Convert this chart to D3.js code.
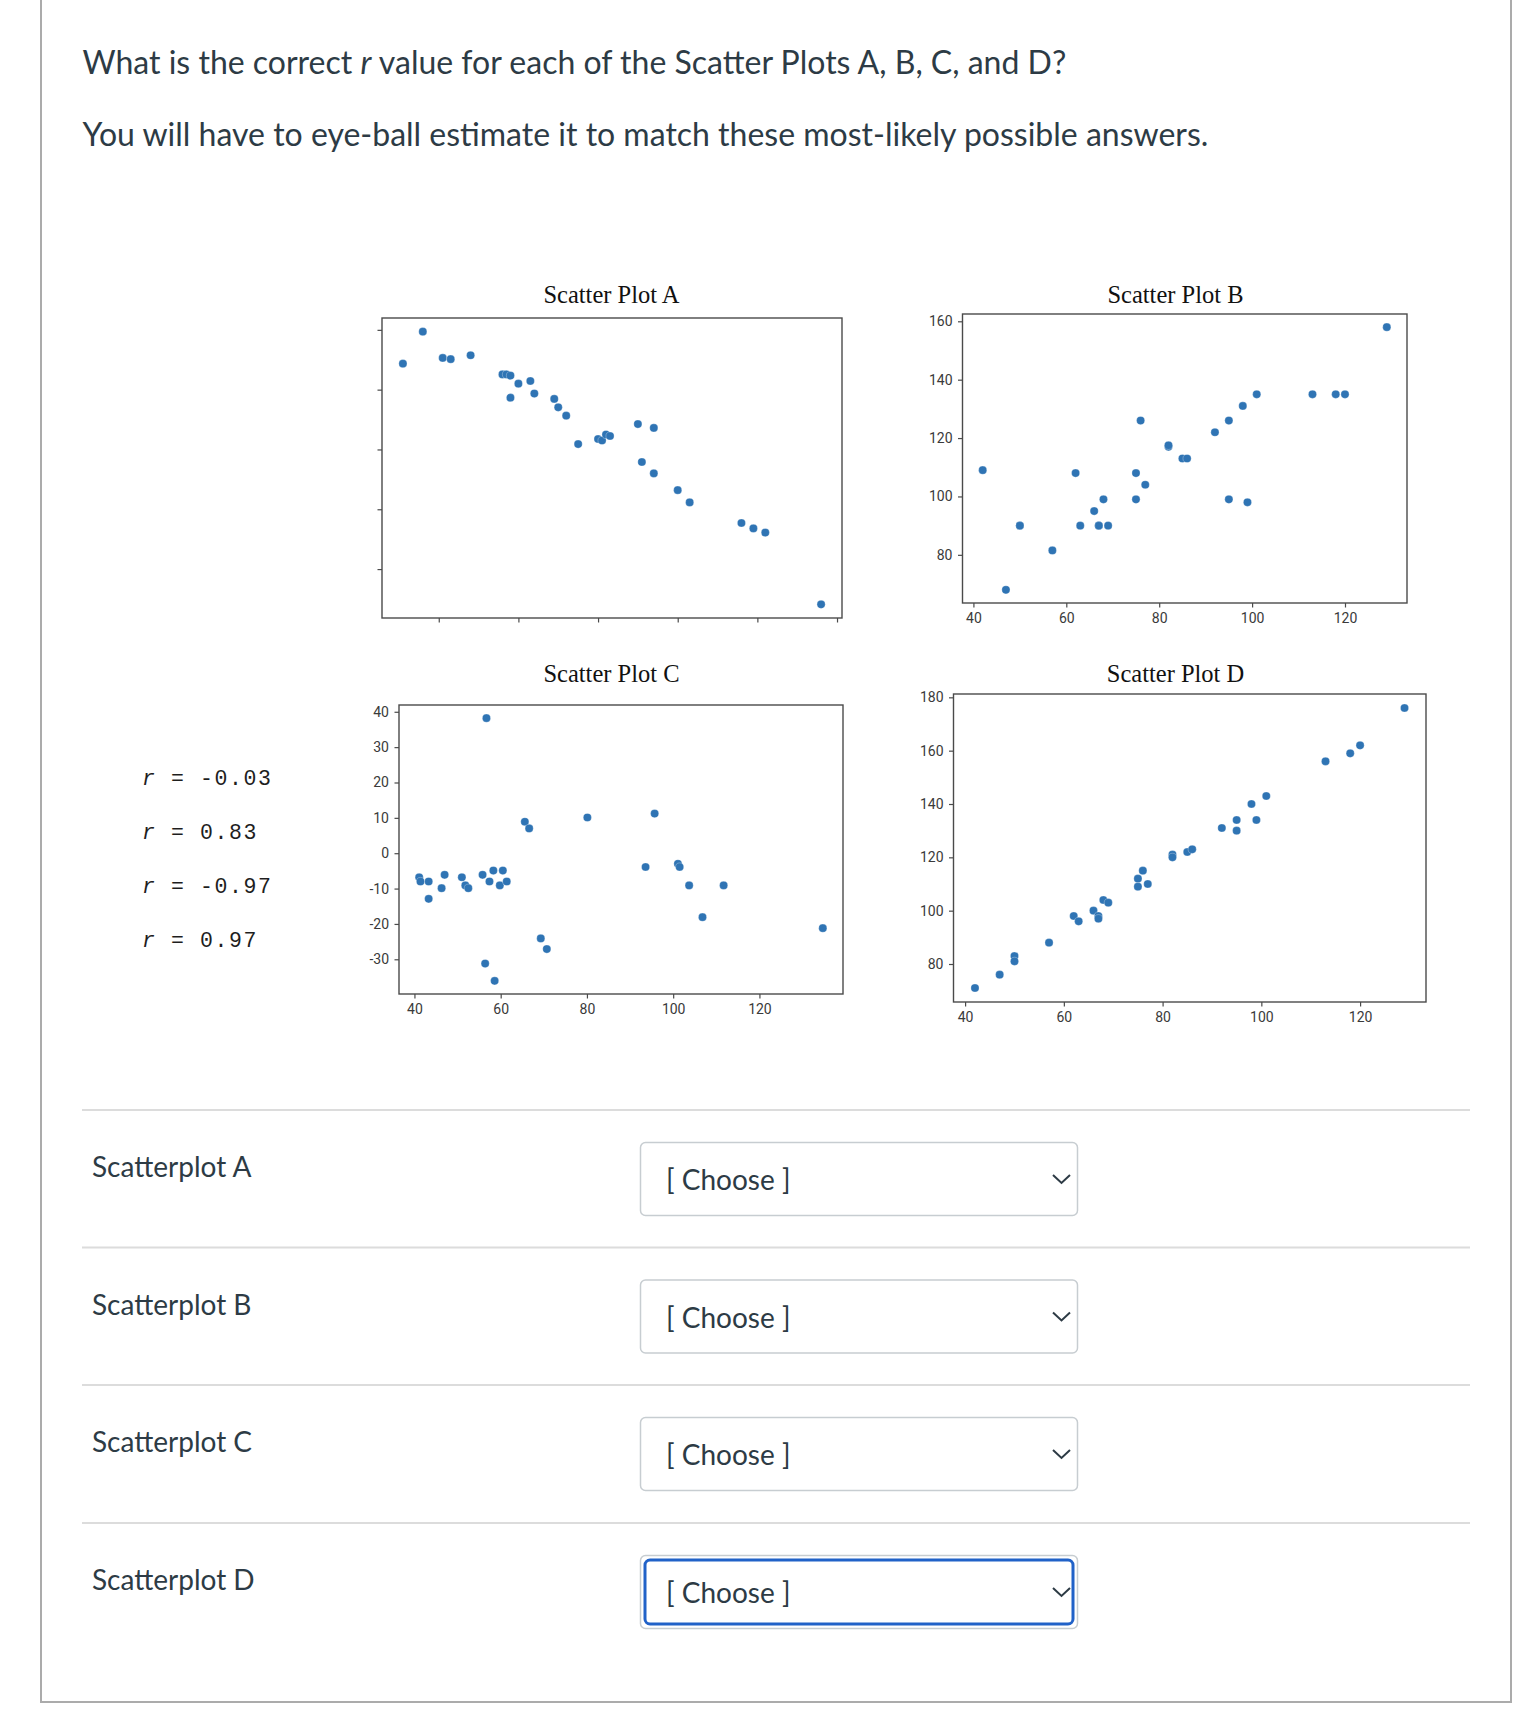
<!DOCTYPE html>
<html>
<head>
<meta charset="utf-8">
<script src="https://cdn.jsdelivr.net/npm/d3@7"></script>
<style>
  html, body { margin: 0; padding: 0; background: #fff; }
  svg { display: block; }
</style>
</head>
<body>
<svg id="page" width="1538" height="1728"></svg>
<script>
// ---------------- DATA ----------------
const plotTitles = ["Scatter Plot A", "Scatter Plot B", "Scatter Plot C", "Scatter Plot D"];

const aX = [71, 76, 81, 83, 88, 96, 97, 98, 100, 98, 103, 104, 109, 110, 112, 115, 120, 121, 122, 123, 130, 134, 131, 134, 140, 143, 156, 159, 162, 176];
const aY = [-11.3, -0.6, -9.4, -9.8, -8.5, -14.9, -14.9, -15.3, -18.0, -22.7, -17.1, -21.3, -23.1, -25.9, -28.7, -38.2, -36.5, -37.0, -35.0, -35.5, -31.5, -32.8, -44.2, -48.0, -53.6, -57.7, -64.6, -66.4, -67.8, -91.8];
const aXTicks = [80, 100, 120, 140, 160, 180];
const aYTicks = [0, -20, -40, -60, -80];

const bX = [42, 47, 50, 50, 57, 62, 63, 66, 67, 67, 68, 69, 75, 75, 76, 77, 82, 82, 85, 86, 92, 95, 95, 98, 99, 101, 113, 118, 120, 129];
const bY = [109, 68, 90, 90, 81.5, 108, 90, 95, 90, 90, 99, 90, 108, 99, 126, 104, 117, 117.5, 113, 113, 122, 126, 99, 131, 98, 135, 135, 135, 135, 158];
const bXTicks = [40, 60, 80, 100, 120];
const bYTicks = [80, 100, 120, 140, 160];

const cX = [56.7, 65.6, 66.6, 80.1, 95.7, 41.1, 41.4, 43.3, 43.3, 46.3, 47.0, 51.0, 51.8, 52.5, 55.8, 57.4, 58.3, 59.8, 60.5, 61.4, 93.6, 101.1, 101.5, 103.7, 111.7, 106.8, 134.7, 69.3, 70.7, 56.4, 58.6];
const cY = [38.2, 8.9, 7.0, 10.1, 11.2, -6.8, -8.0, -8.0, -12.9, -9.9, -6.1, -6.8, -9.1, -9.9, -6.1, -8.0, -4.9, -9.1, -4.9, -8.0, -3.9, -3.0, -3.9, -9.1, -9.1, -18.1, -21.2, -24.1, -27.1, -31.2, -36.1];
const cXTicks = [40, 60, 80, 100, 120];
const cYTicks = [-30, -20, -10, 0, 10, 20, 30, 40];

const dX = [42, 47, 50, 50, 57, 62, 63, 66, 67, 67, 68, 69, 75, 75, 76, 77, 82, 82, 85, 86, 92, 95, 95, 98, 99, 101, 113, 118, 120, 129];
const dY = [71, 76, 83, 81, 88, 98, 96, 100, 98, 97, 104, 103, 112, 109, 115, 110, 121, 120, 122, 123, 131, 134, 130, 140, 134, 143, 156, 159, 162, 176];
const dXTicks = [40, 60, 80, 100, 120];
const dYTicks = [80, 100, 120, 140, 160, 180];

const rValues = ["-0.03", "0.83", "-0.97", "0.97"];
const rowLabels = ["Scatterplot A", "Scatterplot B", "Scatterplot C", "Scatterplot D"];
const chooseText = "[ Choose ]";
const questionLines = [
  ["What is the correct ", "r", " value for each of the Scatter Plots A, B, C, and D?"],
  ["You will have to eye-ball estimate it to match these most-likely possible answers.", "", ""]
];

// ---------------- LAYOUT ----------------
const svg = d3.select("#page");
const TEXT = "#2d3b45";
const DOT = "#2f74b4";
const FRAME = "#4a4a4a";

// outer border
svg.append("path")
  .attr("d", "M41,0 V1702 H1511 V0")
  .attr("fill", "none").attr("stroke", "#ababab").attr("stroke-width", 2);

// question text
const qBase = [73.5, 145.5];
questionLines.forEach((parts, i) => {
  const t = svg.append("text")
    .attr("x", 82.5).attr("y", qBase[i])
    .attr("font-family", "Lato, sans-serif").attr("font-size", 32)
    .attr("fill", TEXT).attr("xml:space", "preserve");
  t.append("tspan").text(parts[0]);
  if (parts[1]) t.append("tspan").attr("font-style", "italic").text(parts[1]);
  if (parts[2]) t.append("tspan").text(parts[2]);
});

// r list
const rBase = [785, 839, 893, 947];
rValues.forEach((v, i) => {
  const t = svg.append("text")
    .attr("x", 142).attr("y", rBase[i])
    .attr("font-family", "'Liberation Mono', monospace").attr("font-size", 21.5)
    .attr("letter-spacing", 1.6)
    .attr("fill", "#1e1e1e").attr("xml:space", "preserve");
  t.append("tspan").attr("font-style", "italic").text("r");
  t.append("tspan").text(" = " + v);
});

// scatter plots
function drawPlot(cfg) {
  const { xs, ys, xTicks, yTicks, box, title, titleX, titleY, labels } = cfg;
  const g = svg.append("g");
  const ex = d3.extent(xs), ey = d3.extent(ys);
  const px = (ex[1] - ex[0]) * 0.05, py = (ey[1] - ey[0]) * 0.05;
  const x = d3.scaleLinear().domain([ex[0] - px, ex[1] + px]).range([box.x0, box.x1]);
  const y = d3.scaleLinear().domain([ey[0] - py, ey[1] + py]).range([box.y1, box.y0]);

  g.append("text")
    .attr("x", titleX).attr("y", titleY)
    .attr("text-anchor", "middle")
    .attr("font-family", "'Liberation Serif', 'Times New Roman', serif")
    .attr("font-size", 24.5).attr("fill", "#111")
    .text(title);

  const fmt = labels ? (d => String(d)) : () => "";
  const xa = g.append("g").attr("transform", `translate(0,${box.y1})`)
    .call(d3.axisBottom(x).tickValues(xTicks).tickSize(4.5).tickPadding(5.5).tickFormat(fmt));
  const ya = g.append("g").attr("transform", `translate(${box.x0},0)`)
    .call(d3.axisLeft(y).tickValues(yTicks).tickSize(4.5).tickPadding(5.5).tickFormat(fmt));
  [xa, ya].forEach(a => {
    a.select(".domain").remove();
    a.selectAll("line").attr("stroke", FRAME).attr("stroke-width", 1.2);
    a.selectAll("text").attr("font-family", "Roboto, sans-serif").attr("font-size", 14).attr("fill", "#3a3a3a");
  });

  g.append("rect")
    .attr("x", box.x0).attr("y", box.y0)
    .attr("width", box.x1 - box.x0).attr("height", box.y1 - box.y0)
    .attr("fill", "none").attr("stroke", FRAME).attr("stroke-width", 1.4);

  g.selectAll("circle.pt").data(xs.map((v, i) => [v, ys[i]])).join("circle")
    .attr("class", "pt")
    .attr("cx", d => x(d[0])).attr("cy", d => y(d[1]))
    .attr("r", 4.1).attr("fill", DOT).attr("stroke", "#ffffff").attr("stroke-width", 0.3);
}

drawPlot({ xs: aX, ys: aY, xTicks: aXTicks, yTicks: aYTicks, box: { x0: 382, x1: 842, y0: 318, y1: 618 }, title: plotTitles[0], titleX: 611.5, titleY: 302.5, labels: false });
drawPlot({ xs: bX, ys: bY, xTicks: bXTicks, yTicks: bYTicks, box: { x0: 962.5, x1: 1407, y0: 314, y1: 603 }, title: plotTitles[1], titleX: 1175.5, titleY: 302.5, labels: true });
drawPlot({ xs: cX, ys: cY, xTicks: cXTicks, yTicks: cYTicks, box: { x0: 399, x1: 843, y0: 705, y1: 994 }, title: plotTitles[2], titleX: 611.5, titleY: 682.3, labels: true });
drawPlot({ xs: dX, ys: dY, xTicks: dXTicks, yTicks: dYTicks, box: { x0: 953.5, x1: 1426, y0: 694, y1: 1002 }, title: plotTitles[3], titleX: 1175.5, titleY: 682.3, labels: true });

// answer rows
const sepY = [1110, 1247.5, 1385, 1523];
rowLabels.forEach((lab, i) => {
  const top = sepY[i];
  svg.append("line")
    .attr("x1", 82).attr("x2", 1470).attr("y1", top).attr("y2", top)
    .attr("stroke", "#dcdcdc").attr("stroke-width", 2);
  svg.append("text")
    .attr("x", 92).attr("y", top + 67)
    .attr("font-family", "Lato, sans-serif").attr("font-size", 28)
    .attr("fill", TEXT).text(lab);
  const sy = top + 32.5;
  svg.append("rect")
    .attr("x", 640.5).attr("y", sy).attr("width", 437).attr("height", 73).attr("rx", 5)
    .attr("fill", "#fff").attr("stroke", "#c7cdd1").attr("stroke-width", 1.5);
  if (i === 3) {
    svg.append("rect")
      .attr("x", 645).attr("y", sy + 4.5).attr("width", 428).attr("height", 64).attr("rx", 5)
      .attr("fill", "none").attr("stroke", "#2162c8").attr("stroke-width", 3);
  }
  svg.append("text")
    .attr("x", 666).attr("y", sy + 47.5)
    .attr("font-family", "Lato, sans-serif").attr("font-size", 28)
    .attr("fill", TEXT).attr("xml:space", "preserve").text(chooseText);
  const cy = sy + 36.5;
  svg.append("path")
    .attr("d", `M1053,${cy - 4} L1061.5,${cy + 4} L1070,${cy - 4}`)
    .attr("fill", "none").attr("stroke", TEXT).attr("stroke-width", 2);
});
</script>
</body>
</html>
